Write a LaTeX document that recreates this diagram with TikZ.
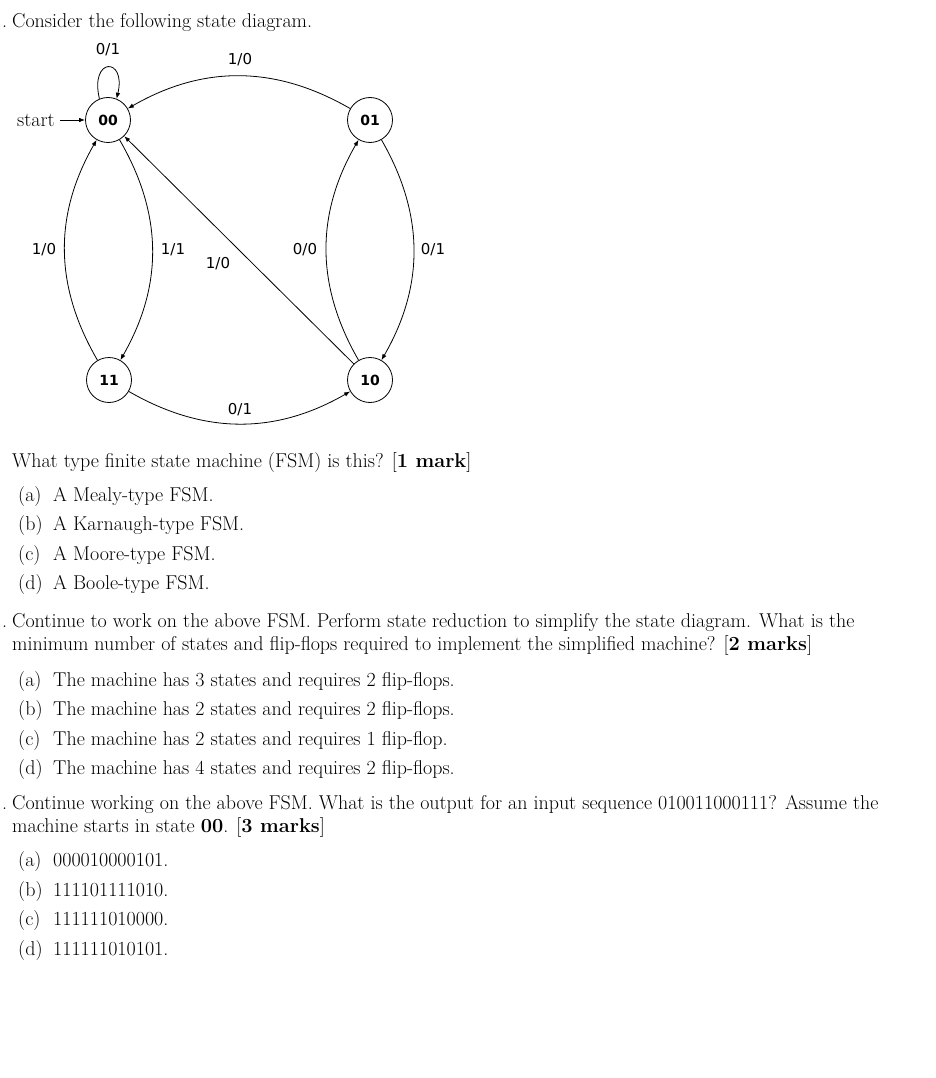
\documentclass[tikz,border=0pt]{standalone}
\usepackage{fontspec}
\newfontfamily\lblfont{DejaVu Sans}
\usetikzlibrary{arrows.meta}
\begin{document}
\begin{tikzpicture}[x=1pt,y=-1pt,
  state/.style={circle,draw,line width=0.8pt,minimum size=45pt,inner sep=0pt,font=\lblfont\bfseries\fontsize{14}{16}\selectfont},
  lbl/.style={font=\lblfont\fontsize{15}{17}\selectfont,inner sep=0pt},
  txt/.style={anchor=base west,inner sep=0pt,font=\fontsize{20}{24}\selectfont},
  arr/.style={-{Latex[length=6pt,width=4.5pt]},line width=0.8pt}]
\useasboundingbox (0,0) rectangle (936,1078);
% states
\node[state] (n00) at (108,120) {00};
\node[state] (n01) at (370,120) {01};
\node[state] (n11) at (109,380) {11};
\node[state] (n10) at (370,380) {10};
\node[txt,anchor=base east] (start) at (55,127) {start};
% edges
\draw[arr] (start.east |- n00) ++(5,0) coordinate (s0) (s0) -- (n00);
\draw[arr] (n00.112) .. controls +(-10,-42) and +(10,-42) .. (n00.68);
\draw[arr] (n01) to[bend right=30] (n00);
\draw[arr] (n11) to[bend left=30] (n00);
\draw[arr] (n00) to[bend left=30] (n11);
\draw[arr] (n10) -- (n00);
\draw[arr] (n10) to[bend left=30] (n01);
\draw[arr] (n01) to[bend left=30] (n10);
\draw[arr] (n11) to[bend right=30] (n10);
% edge labels
\node[lbl] (l1) at (108,50) {0/1};
\node[lbl] (l2) at (240,60) {1/0};
\node[lbl] (l3) at (44,250) {1/0};
\node[lbl] (l4) at (173,250) {1/1};
\node[lbl] (l5) at (218,264) {1/0};
\node[lbl] (l6) at (305,250) {0/0};
\node[lbl] (l7) at (433,250) {0/1};
\node[lbl] (l8) at (240,410) {0/1};
% text
\node[txt] (d1) at (2,28) {.};
\node[txt] (q1) at (12,28) {Consider the following state diagram.};
\node[txt] (q1b) at (12,467) {What type finite state machine (FSM) is this? [\textbf{1 mark}]};
\node[txt] (a1) at (18,501) {(a)};\node[txt] (a1t) at (53,501) {A Mealy-type FSM.};
\node[txt] (b1) at (18,530) {(b)};\node[txt] (b1t) at (53,530) {A Karnaugh-type FSM.};
\node[txt] (c1) at (18,560) {(c)};\node[txt] (c1t) at (53,560) {A Moore-type FSM.};
\node[txt] (e1) at (18,589) {(d)};\node[txt] (e1t) at (53,589) {A Boole-type FSM.};
\node[txt] (d2) at (2,627) {.};
\node[txt] (q2) at (12,627) {Continue to work on the above FSM. Perform state reduction to simplify the state diagram. What is the};
\node[txt] (q2b) at (12,650) {minimum number of states and flip-flops required to implement the simplified machine? [\textbf{2 marks}]};
\node[txt] (a2) at (18,686) {(a)};\node[txt] (a2t) at (53,686) {The machine has 3 states and requires 2 flip-flops.};
\node[txt] (b2) at (18,715) {(b)};\node[txt] (b2t) at (53,715) {The machine has 2 states and requires 2 flip-flops.};
\node[txt] (c2) at (18,745) {(c)};\node[txt] (c2t) at (53,745) {The machine has 2 states and requires 1 flip-flop.};
\node[txt] (e2) at (18,774) {(d)};\node[txt] (e2t) at (53,774) {The machine has 4 states and requires 2 flip-flops.};
\node[txt] (d3) at (2,809) {.};
\node[txt] (q3) at (12,809) {Continue working on the above FSM. What is the output for an input sequence 010011000111? Assume the};
\node[txt] (q3b) at (12,832) {machine starts in state \textbf{00}. [\textbf{3 marks}]};
\node[txt] (a3) at (18,866) {(a)};\node[txt] (a3t) at (53,866) {000010000101.};
\node[txt] (b3) at (18,896) {(b)};\node[txt] (b3t) at (53,896) {111101111010.};
\node[txt] (c3) at (18,925) {(c)};\node[txt] (c3t) at (53,925) {111111010000.};
\node[txt] (e3) at (18,955) {(d)};\node[txt] (e3t) at (53,955) {111111010101.};
\end{tikzpicture}
\end{document}
